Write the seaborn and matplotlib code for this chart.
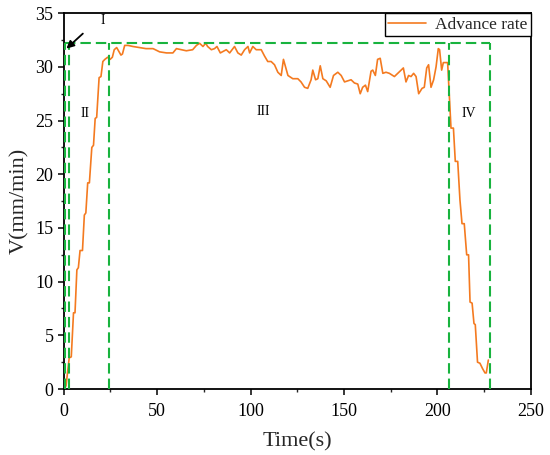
import matplotlib
matplotlib.use("Agg")
import matplotlib.pyplot as plt
import seaborn as sns
import pandas as pd

# Data
time_s = [0, 1.2, 2.9, 4.0, 5.2, 6.0, 7.0, 7.8, 8.7, 10.0, 11.0, 11.8, 12.8, 13.7, 15.0, 15.9,
          16.8, 17.6, 18.9, 19.9, 20.9, 22.0, 23.5, 24.8, 26.0, 27.0, 28.3, 29.6, 30.6, 31.4,
          32.6, 34.4, 37, 40.6, 44, 47.8, 51.3, 55, 58.4, 60.3, 63, 65.6, 69, 71, 72.7, 74.5,
          76, 77, 79, 80.7, 82, 83.8, 87, 88.8, 91.4, 93.2, 95, 96.8, 98.6, 99.5, 101.2, 103,
          105.7, 107.5, 109.2, 111, 112.8, 114.6, 116.4, 117.6, 118.7, 120, 122.6, 125.3, 127,
          128.9, 130.6, 132.4, 133.3, 134.8, 136, 137.3, 138.7, 140.5, 142.6, 144.4, 146.7,
          148.5, 150.3, 152, 153.8, 155.6, 157.4, 158.7, 160, 161.5, 162.7, 164.5, 165.4,
          166.8, 168, 169.4, 170.8, 172.5, 174.3, 177, 178.8, 180.6, 181.8, 183.2, 184.6,
          185.9, 187.3, 188.6, 190, 191.8, 193, 194.3, 195.3, 196.6, 198, 199.3, 200.5, 201.2,
          202.3, 203.2, 204.7, 205.5, 207.3, 208.6, 209.6, 210.9, 212.1, 213.2, 214.4, 215.7,
          216.7, 217.5, 218.6, 219.6, 220.3, 221.5, 222.8, 224.2, 225.5, 226.2, 227.3]
advance_rate = [0, 0.3, 2.9, 3.0, 7.1, 7.1, 11.1, 11.3, 12.9, 12.9, 16.2, 16.4, 19.2, 19.2, 22.5,
                22.7, 25.2, 25.3, 29.0, 29.1, 30.5, 30.7, 30.9, 30.7, 30.9, 31.6, 31.8, 31.4,
                31.1, 31.2, 32.0, 32.0, 31.9, 31.8, 31.7, 31.7, 31.4, 31.3, 31.3, 31.7, 31.6,
                31.5, 31.6, 32.0, 32.2, 31.9, 32.2, 31.9, 31.6, 31.7, 31.9, 31.3, 31.6, 31.3,
                31.9, 31.3, 31.1, 31.6, 31.9, 31.3, 31.9, 31.6, 31.6, 31.0, 30.5, 30.5, 30.2,
                29.5, 29.2, 30.7, 30.0, 29.2, 28.9, 28.9, 28.6, 28.1, 28.0, 28.8, 29.7, 28.8,
                28.9, 30.1, 28.9, 28.7, 28.1, 29.2, 29.5, 29.2, 28.6, 28.7, 28.8, 28.5, 28.4,
                27.5, 28.1, 28.3, 27.7, 29.6, 29.7, 29.2, 30.7, 30.8, 29.4, 29.5, 29.4, 29.1,
                29.4, 29.7, 29.9, 28.6, 29.2, 29.1, 29.4, 29.1, 27.5, 28.0, 28.1, 29.9, 30.2,
                28.1, 28.8, 30.0, 31.7, 31.6, 29.7, 30.4, 30.4, 30.4, 24.3, 24.3, 21.2, 21.2,
                17.6, 15.4, 15.4, 12.5, 12.5, 8.1, 8.0, 6.1, 6.0, 2.5, 2.4, 1.9, 1.5, 1.5, 2.7]

region_bounds = [0.5, 3, 24, 206, 228]
region_top = 32.2
region_labels = ["I", "II", "III", "IV"]
region_label_x = [20.9, 11.2, 107, 216.6]
region_label_y = [34.3, 25.7, 25.8, 25.7]

df = pd.DataFrame({"Time(s)": time_s, "V": advance_rate})

sns.set_style("ticks")
plt.rcParams["font.family"] = ["Liberation Serif", "DejaVu Serif"]
plt.rcParams["mathtext.fontset"] = "stix"

fig = plt.figure(figsize=(5.5, 4.55), dpi=100)
ax = fig.add_axes([0.116, 0.145, 0.849, 0.826])

orange = "#F47A20"
green = "#18B33E"

sns.lineplot(data=df, x="Time(s)", y="V", ax=ax, color=orange, lw=1.2,
             label="Advance rate", sort=False, estimator=None)

dash = (0, (5, 2.4))
for xb in region_bounds:
    ax.plot([xb, xb], [0, region_top], color=green, lw=1.5, linestyle=dash, zorder=3)
ax.plot([region_bounds[0], region_bounds[-1]], [region_top, region_top],
        color=green, lw=1.5, linestyle=dash, zorder=3)

for lab, lx, ly in zip(region_labels, region_label_x, region_label_y):
    ax.text(lx, ly, lab, fontsize=10, ha="center", va="center", color="black")

ax.annotate("", xy=(1.4, 31.7), xytext=(10.2, 33.1),
            arrowprops=dict(arrowstyle="-|>", color="black", lw=1.3, mutation_scale=11,
                            shrinkA=0, shrinkB=0))

ax.set_xlim(0, 250)
ax.set_ylim(0, 35)
ax.set_xticks([0, 50, 100, 150, 200, 250])
ax.set_yticks([0, 5, 10, 15, 20, 25, 30, 35])
ax.set_xticks(range(25, 250, 50), minor=True)
ax.set_yticks([2.5 + 5 * i for i in range(7)], minor=True)
ax.tick_params(axis="both", which="major", direction="out", length=4, width=1.1,
               labelsize=13, colors="black", top=False, right=False)
ax.tick_params(axis="x", which="major", pad=6)
ax.tick_params(axis="both", which="minor", direction="out", length=2.5, width=1.0,
               top=False, right=False)
for sp in ax.spines.values():
    sp.set_visible(True)
    sp.set_linewidth(1.3)
    sp.set_color("black")

ax.set_xlabel("Time(s)", fontsize=16, labelpad=9)
ax.set_ylabel("V(mm/min)", fontsize=16, labelpad=4)

leg = ax.legend(loc="upper right", borderaxespad=0, fancybox=False, frameon=True,
                edgecolor="black", framealpha=1, fontsize=12.5, borderpad=0.2,
                handlelength=2.2, handletextpad=0.5)
leg.get_frame().set_linewidth(1.0)

fig.savefig("out.png", dpi=100)
